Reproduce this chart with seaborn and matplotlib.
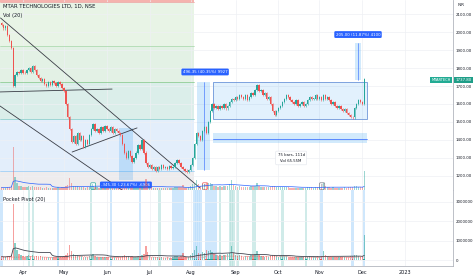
import numpy as np
import pandas as pd
import matplotlib
matplotlib.use('Agg')
import matplotlib.pyplot as plt
import seaborn as sns
from matplotlib.patches import Rectangle

sns.set_theme(style='white')
plt.rcParams['font.family'] = ['DejaVu Sans']

# daily closes, NSE trading days from 17 Mar 2022 to 2 Dec 2022
first_open = 2050
closes = [2040, 2020, 2035, 1985, 1950, 1910, 1700, 1760, 1780, 1770,
          1790, 1775, 1770, 1790, 1800, 1780, 1810, 1790, 1760, 1745,
          1730, 1740, 1710, 1700, 1720, 1705, 1730, 1715, 1700, 1720,
          1710, 1690, 1670, 1600, 1530, 1460, 1390, 1420, 1380, 1440,
          1400, 1420, 1360, 1400, 1380, 1430, 1460, 1490, 1450, 1460,
          1440, 1470, 1450, 1480, 1460, 1450, 1470, 1440, 1460, 1450,
          1440, 1430, 1380, 1330, 1300, 1340, 1310, 1280, 1300, 1330,
          1370, 1350, 1400, 1330, 1270, 1250, 1260, 1240, 1250, 1230,
          1250, 1240, 1260, 1245, 1250, 1240, 1255, 1245, 1250, 1270,
          1290, 1270, 1250, 1240, 1230, 1220, 1235, 1260, 1300, 1380,
          1440, 1420, 1400, 1450, 1470, 1440, 1500, 1560, 1600, 1580,
          1590, 1570, 1590, 1580, 1600, 1575, 1590, 1610, 1630, 1620,
          1640, 1630, 1650, 1640, 1630, 1650, 1620, 1640, 1660, 1650,
          1680, 1705, 1670, 1680, 1650, 1660, 1630, 1640, 1600, 1560,
          1540, 1560, 1580, 1590, 1610, 1630, 1650, 1640, 1620, 1610,
          1600, 1620, 1590, 1600, 1610, 1590, 1600, 1620, 1640, 1630,
          1630, 1650, 1630, 1640, 1620, 1650, 1630, 1640, 1620, 1600,
          1610, 1590, 1580, 1590, 1570, 1560, 1570, 1550, 1540, 1530,
          1525, 1580, 1600, 1620, 1610, 1600, 1737.8]

# volume in thousands of shares
volume_k = [180, 150, 160, 200, 220, 250, 2900, 900, 500, 300,
            250, 200, 180, 220, 260, 200, 240, 180, 200, 170,
            190, 160, 150, 170, 140, 160, 150, 130, 140, 170,
            150, 180, 200, 260, 350, 800, 450, 300, 250, 280,
            220, 200, 180, 160, 170, 210, 260, 300, 220, 180,
            150, 140, 160, 130, 150, 140, 170, 150, 130, 140,
            150, 160, 210, 260, 220, 190, 170, 200, 160, 180,
            220, 180, 260, 300, 750, 400, 220, 180, 150, 140,
            130, 120, 140, 120, 110, 130, 120, 110, 140, 200,
            230, 180, 200, 350, 160, 150, 180, 260, 380, 500,
            700, 380, 300, 420, 380, 500, 450, 500, 400, 300,
            260, 220, 250, 200, 240, 260, 300, 380, 700, 350,
            280, 230, 260, 200, 180, 220, 190, 200, 240, 280,
            300, 450, 260, 220, 200, 180, 200, 170, 230, 260,
            240, 200, 180, 190, 200, 220, 210, 180, 160, 150,
            140, 160, 150, 130, 140, 150, 160, 170, 200, 180,
            160, 170, 200, 180, 220, 450, 260, 200, 180, 160,
            170, 150, 160, 140, 150, 160, 170, 150, 180, 200,
            220, 260, 240, 200, 180, 220, 1300]

start_date = '2022-03-17'
month_starts = ['2022-04-01', '2022-05-02', '2022-06-01', '2022-07-01', '2022-08-01',
                '2022-09-01', '2022-10-03', '2022-11-01', '2022-12-01', '2023-01-02']
month_labels = ['Apr', 'May', 'Jun', 'Jul', 'Aug', 'Sep', 'Oct', 'Nov', 'Dec', '2023']
price_ticks = [1200, 1300, 1400, 1500, 1600, 1700, 1800, 1900, 2000, 2100]
vol_ticks = [0, 1000000, 2000000, 3000000]

# fibonacci bands on the left (price boundaries, top to bottom)
fib_bounds = [2178, 2167, 1922, 1722, 1517, 1228, 1122]
fib_fill = ['#f5b3ae', '#e8f4e6', '#e3f1e5', '#dbeeea', '#e3eefb', '#eeeced']
fib_line = ['#ef9a9a', '#a5d6a7', '#81c784', '#80cbc4', '#90caf9', '#b0b0b0']
fib_end = 98.7

# trend lines (bar index, price)
trend_lines = [([-0.5, 101.8], [2078, 1133]),
               ([-0.8, 61.8], [1589, 1122]),
               ([-0.8, 56.7], [1667, 1683]),
               ([36.2, 69.5], [1333, 1467])]

# pocket pivot signal bars
pivot_teal = [14, 16, 46, 81, 112, 117, 118, 119, 121, 129, 130, 144, 156]
pivot_blue = [0, 29, 56, 71, 88, 89, 90, 91, 92, 93, 99, 100, 101, 102,
              105, 106, 107, 108, 109, 110, 164, 180, 186]

closes = np.array(closes, dtype=float)
opens = np.r_[first_open, closes[:-1]]
vol = pd.Series(volume_k, dtype=float) * 1000
idx = np.arange(len(closes))
up = closes >= opens
col = np.where(up, '#26a69a', '#ef5350')
month_pos = [np.busday_count(start_date, d) for d in month_starts]

W, H = 474, 279
fig = plt.figure(figsize=(W / 100, H / 100), dpi=100)
fig.patch.set_facecolor('white')


def fy(py):
    return 1 - py / H


ax = fig.add_axes([0, fy(190), 453 / W, 190 / H])
axv = fig.add_axes([0, fy(190), 453 / W, 190 / H], sharex=ax)
axp = fig.add_axes([0, fy(266), 453 / W, 76 / H], sharex=ax)

txt = '#131722'
grid = '#eef0f4'

# ---- main price panel
ax.set_xlim(-0.77, 231.5)
ax.set_ylim(1122, 2178)
for i in range(len(fib_fill)):
    ax.add_patch(Rectangle((-0.77, fib_bounds[i + 1]), fib_end + 0.77,
                           fib_bounds[i] - fib_bounds[i + 1],
                           color=fib_fill[i], lw=0, zorder=0.2))
    ax.plot([-0.77, fib_end], [fib_bounds[i + 1]] * 2, color=fib_line[i], lw=0.5, zorder=0.6)

# measure boxes
ax.add_patch(Rectangle((60.3, 1178), 7.1, 289, color='#2196f3', alpha=0.2, lw=0, zorder=0.7))
ax.add_patch(Rectangle((100.3, 1233), 6.7, 489, color='#2196f3', alpha=0.2, lw=0, zorder=0.7))
ax.plot([103.6, 103.6], [1233, 1722], color='#2962ff', lw=0.4, zorder=0.8)
ax.add_patch(Rectangle((181.3, 1733), 3.1, 206, color='#2196f3', alpha=0.2, lw=0, zorder=0.7))
ax.plot([182.8, 182.8], [1733, 1939], color='#2962ff', lw=0.4, zorder=0.8)
ax.add_patch(Rectangle((108.5, 1517), 78.9, 205, facecolor='#2196f3', alpha=0.13,
                       edgecolor='none', zorder=0.7))
ax.add_patch(Rectangle((108.5, 1517), 78.9, 205, fill=False, edgecolor='#6d95d8', lw=0.6, zorder=0.8))
ax.add_patch(Rectangle((108.5, 1383), 78.9, 56, color='#2196f3', alpha=0.2, lw=0, zorder=0.7))
ax.plot([108.5, 187.4], [1406, 1406], color='#2962ff', lw=0.5, zorder=0.8)

for xs, ys in trend_lines:
    sns.lineplot(x=xs, y=ys, ax=ax, color='#3a3d46', lw=0.6, zorder=3)

ax.vlines(idx, np.minimum(opens, closes) - 6, np.maximum(opens, closes) + 6,
          colors=col, lw=0.4, zorder=4)
ax.bar(idx, np.maximum(np.abs(closes - opens), 2), bottom=np.minimum(opens, closes),
       width=0.7, color=col, lw=0, zorder=5)

ax.yaxis.tick_right()
ax.set_yticks(price_ticks)
ax.set_yticklabels([f'{v:.2f}' for v in price_ticks])
ax.set_xticks(month_pos)
ax.tick_params(axis='y', length=0, pad=2, labelsize=2.9, colors=txt)
ax.tick_params(axis='x', length=0, labelbottom=False)
ax.grid(True, color=grid, lw=0.5)
ax.set_axisbelow(True)
for s in ['top', 'left']:
    ax.spines[s].set_visible(False)
ax.spines['right'].set_color('#b2b5be')
ax.spines['right'].set_linewidth(0.6)
ax.spines['bottom'].set_color('#d1d4dc')
ax.spines['bottom'].set_linewidth(0.5)
ax.set_xlabel('')
ax.set_ylabel('')

# labels of the drawing tools
blue_box = dict(boxstyle='round,pad=0.35,rounding_size=0.3', fc='#2962ff', ec='none')
ax.text(63.8, 1150, '-345.30 (-23.67%) -6906', fontsize=2.9, color='white',
        ha='center', va='center', bbox=blue_box, zorder=8)
ax.text(104.4, 1778, '496.35 (40.35%) 9927', fontsize=2.9, color='white',
        ha='center', va='center', bbox=blue_box, zorder=8)
ax.text(182.8, 1986, '205.00 (11.87%) 4100', fontsize=2.9, color='white',
        ha='center', va='center', bbox=blue_box, zorder=8)
ax.text(148.5, 1300, '75 bars, 111d\nVol 65.55M', fontsize=2.8, color=txt, linespacing=1.6,
        ha='center', va='center', zorder=8,
        bbox=dict(boxstyle='round,pad=0.5,rounding_size=0.3', fc='white', ec='#e0e3eb', lw=0.4))
for xi, lab, ec in [(47, 'L', '#26a69a'), (104.4, 'E', '#ef5350'), (164.4, 'E', '#787b86')]:
    ax.text(xi, 1144, lab, fontsize=3, color=ec, ha='center', va='center', zorder=8,
            bbox=dict(boxstyle='round,pad=0.3,rounding_size=0.2', fc='white', ec=ec, lw=0.5))

# ---- volume overlay on the price panel
axv.bar(idx, vol, width=0.7, color=col, alpha=0.45, lw=0)
sns.lineplot(x=idx, y=vol.rolling(20, min_periods=1).mean(), ax=axv, color='#2962ff', lw=0.5)
axv.set_ylim(0, 12.8e6)
axv.axis('off')
axv.patch.set_visible(False)

# ---- pocket pivot panel
axp.set_ylim(-0.31e6, 3.62e6)
for b in pivot_teal:
    axp.axvspan(b - 0.6, b + 0.6, color='#b2dfdb', alpha=0.6, lw=0, zorder=0.3)
for b in pivot_blue:
    axp.axvspan(b - 0.6, b + 0.6, color='#bbdefb', alpha=0.7, lw=0, zorder=0.3)
axp.bar(idx, vol, width=0.7, color=col, alpha=0.55, lw=0, zorder=2)
sns.lineplot(x=idx, y=vol.rolling(20, min_periods=1).mean(), ax=axp, color='#434651', lw=0.6, zorder=3)
sns.lineplot(x=idx, y=vol.rolling(10, min_periods=1).min(), ax=axp, color='#ef5350', lw=0.5,
             linestyle=':', zorder=3)
sig = np.array(sorted(pivot_teal + pivot_blue))
axp.scatter(sig, np.zeros(len(sig)) + 0.02e6, s=1.6, marker='s', c=col[sig], zorder=4, lw=0)

axp.yaxis.tick_right()
axp.set_yticks(vol_ticks)
axp.set_yticklabels([str(v) for v in vol_ticks])
axp.set_xticks(month_pos)
axp.set_xticklabels(month_labels)
axp.tick_params(axis='y', length=0, pad=2, labelsize=2.9, colors=txt)
axp.tick_params(axis='x', length=0, pad=3, labelsize=3.6, colors=txt)
axp.grid(True, color=grid, lw=0.5)
axp.set_axisbelow(True)
for s in ['top', 'left']:
    axp.spines[s].set_visible(False)
axp.spines['right'].set_color('#b2b5be')
axp.spines['right'].set_linewidth(0.6)
axp.spines['bottom'].set_color('#b2b5be')
axp.spines['bottom'].set_linewidth(0.6)
axp.set_xlabel('')
axp.set_ylabel('')

# ---- captions
fig.text(3 / W, fy(6), 'MTAR TECHNOLOGIES LTD, 1D, NSE', fontsize=3.8, color=txt, va='center')
fig.text(3 / W, fy(15), 'Vol (20)', fontsize=3.6, color=txt, va='center')
fig.text(3 / W, fy(200), 'Pocket Pivot (20)', fontsize=3.6, color=txt, va='center')
fig.text(458 / W, fy(5), 'INR', fontsize=3.0, color=txt, va='center')
fig.text(441 / W, fy(80), 'MTARTECH', fontsize=2.6, color='white', ha='center', va='center',
         bbox=dict(boxstyle='square,pad=0.35', fc='#22ab94', ec='none'))
fig.text(463.5 / W, fy(80), '1737.80', fontsize=2.9, color='white', ha='center', va='center',
         bbox=dict(boxstyle='square,pad=0.35', fc='#1f9e88', ec='none'))

fig.savefig('out.png', dpi=100)
